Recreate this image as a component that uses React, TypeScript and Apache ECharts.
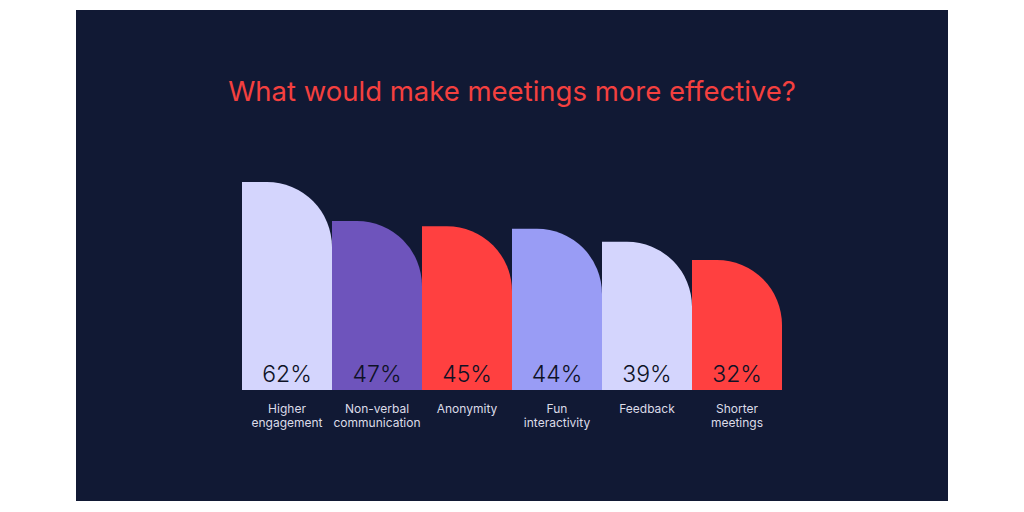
import React, { useEffect, useRef } from "react";
import * as echarts from "echarts";

const categories = [
  "Higher\nengagement",
  "Non-verbal\ncommunication",
  "Anonymity",
  "Fun\ninteractivity",
  "Feedback",
  "Shorter\nmeetings",
];
const values = [62, 47, 45, 44, 39, 32];
const barColors = ["#D4D5FD", "#6E54BC", "#FF4040", "#999CF5", "#D4D5FD", "#FF4040"];
const axisMin = -18;
const axisMax = 62;

export default function App() {
  const ref = useRef<HTMLDivElement>(null);
  useEffect(() => {
    const chart = echarts.init(ref.current!, null, { renderer: "svg" });
    const font = "Inter, 'Noto Sans', sans-serif";
    chart.setOption({
      animation: false,
      backgroundColor: "#FFFFFF",
      graphic: [
        {
          type: "rect",
          z: -10,
          shape: { x: 76, y: 10, width: 872, height: 491 },
          style: { fill: "#111934" },
          silent: true,
        },
      ],
      title: {
        text: "What would make meetings more effective?",
        left: "center",
        top: 72,
        textStyle: { color: "#F4403F", fontSize: 27.5, fontWeight: 400, fontFamily: font },
      },
      grid: { left: 242, right: 242, top: 182, bottom: 122 },
      xAxis: {
        type: "category",
        data: categories,
        axisLine: { show: false },
        axisTick: { show: false },
        axisLabel: {
          interval: 0,
          color: "#DCDCE8",
          fontSize: 12,
          lineHeight: 14,
          margin: 11,
          fontFamily: font,
        },
      },
      yAxis: {
        type: "value",
        min: axisMin,
        max: axisMax,
        show: false,
        splitLine: { show: false },
      },
      series: [
        {
          type: "custom",
          data: values.map((v, i) => [i, v]),
          renderItem: (params: any, api: any) => {
            const i = api.value(0);
            const v = api.value(1);
            const top = api.coord([i, v]);
            const base = api.coord([i, axisMin]);
            const w = api.size([1, 0])[0];
            const x = top[0] - w / 2;
            const h = base[1] - top[1];
            const r = Math.min(65, h);
            return {
              type: "group",
              children: [
                {
                  type: "rect",
                  shape: { x, y: top[1], width: w, height: h, r: [0, r, 0, 0] },
                  style: { fill: barColors[params.dataIndex] },
                },
                {
                  type: "text",
                  x: top[0],
                  y: base[1] - 5,
                  style: {
                    text: v + "%",
                    textAlign: "center",
                    textVerticalAlign: "bottom",
                    fontSize: 23,
                    fontWeight: 300,
                    fontFamily: font,
                    fill: "#0e1226",
                  },
                },
              ],
            };
          },
        },
      ],
    });
    return () => chart.dispose();
  }, []);
  return (
    <div
      ref={ref}
      style={{ position: "absolute", left: 0, top: 0, width: 1024, height: 512 }}
    />
  );
}
